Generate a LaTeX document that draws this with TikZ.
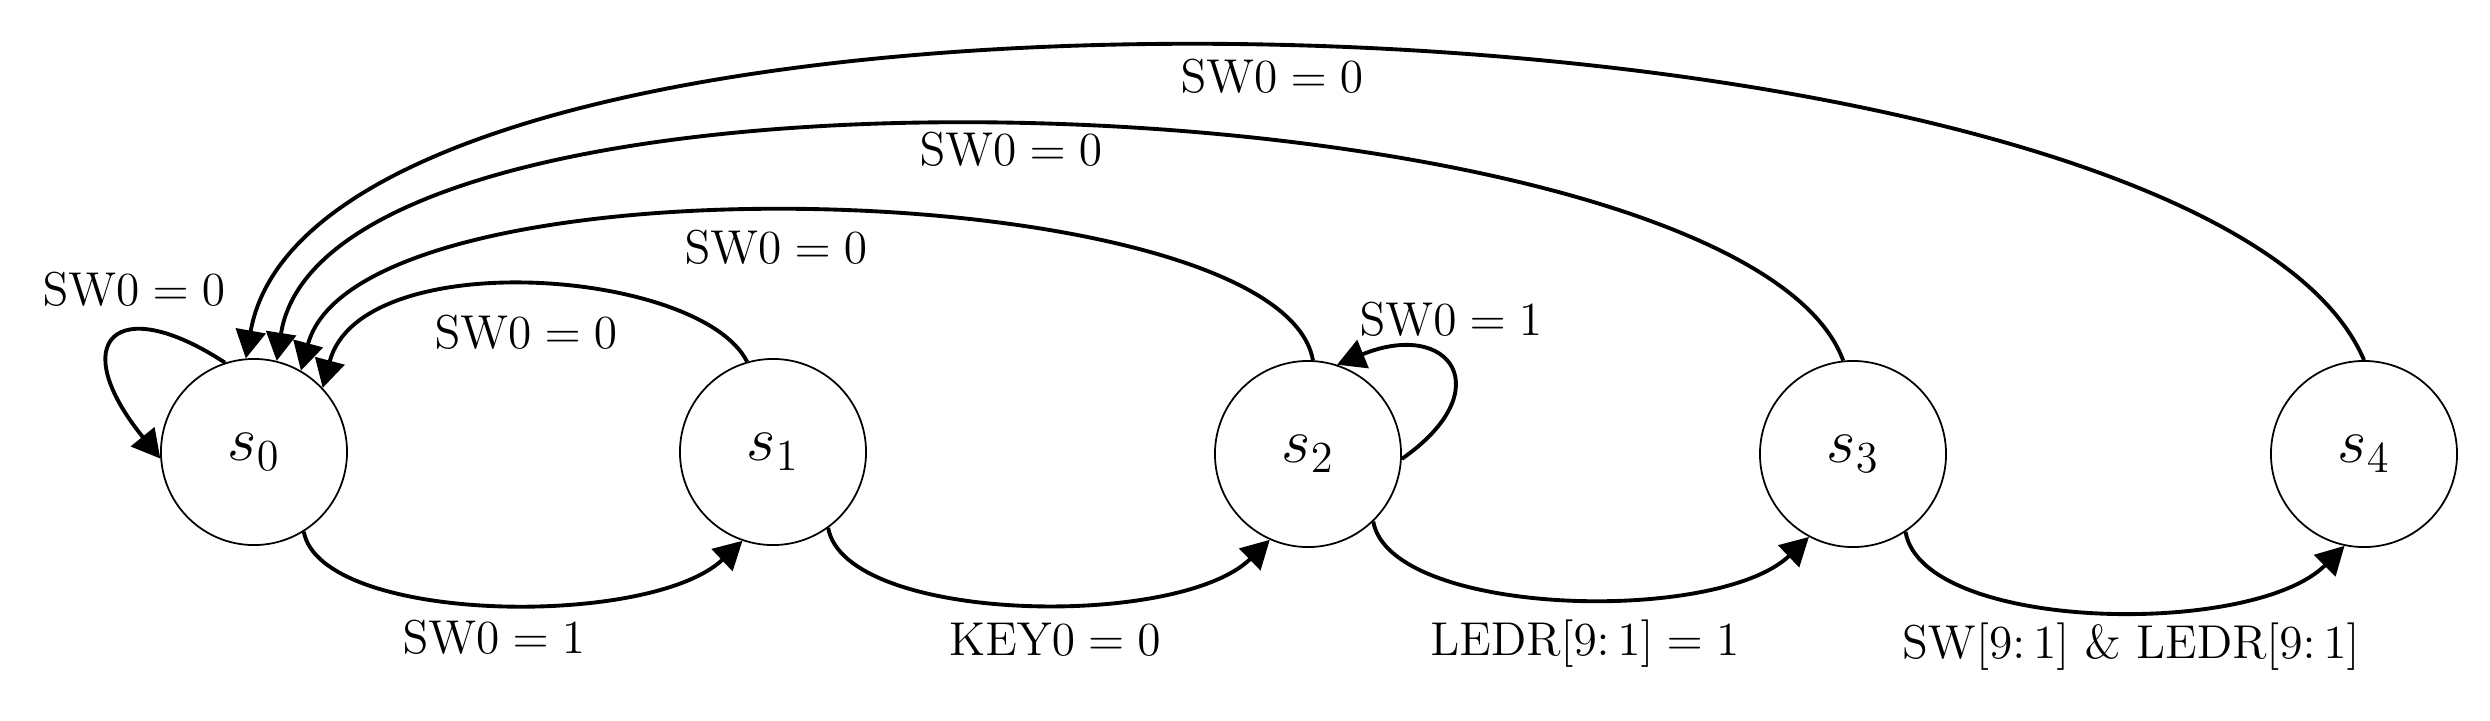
\RequirePackage{fix-cm}
\documentclass[tikz,border=0pt]{standalone}
\usetikzlibrary{arrows.meta}
\begin{document}
\begin{tikzpicture}[x=0.01cm,y=0.01cm,
  state/.style={circle,draw,line width=0.5pt,minimum size=1.86cm,inner sep=0pt,font=\fontsize{18}{20}\selectfont},
  lbl/.style={inner sep=0pt,anchor=base,font=\fontsize{13.5}{16}\selectfont},
  tr/.style={line width=1.1pt,-{Triangle[length=8pt,width=8.5pt]}}]
\useasboundingbox (0,0) rectangle (2490,720);
% states
\node[state] (s0) at (254,268) {$s_0$};
\node[state] (s1) at (773,268) {$s_1$};
\node[state] (s2) at (1308,266) {$s_2$};
\node[state] (s3) at (1853,266) {$s_3$};
\node[state] (s4) at (2364,266) {$s_4$};
% forward transitions (below)
\draw[tr] (s0.302) .. controls +(17,-92) and +(-93,-88) .. (s1.251);
\draw[tr] (s1.-54) .. controls +(17,-95) and +(-92,-90) .. (s2.246);
\draw[tr] (s2.-46) .. controls +(17,-95) and +(-92,-88) .. (s3.242);
\draw[tr] (s3.-56) .. controls +(17,-100) and +(-92,-92) .. (s4.258);
% self loops
\draw[tr] (s0.108) .. controls +(-110,72) and +(-95,117) .. (s0.184);
\draw[tr] (s2.-3) .. controls +(99,69) and +(113,46) .. (s2.72);
% return arcs to s0
\draw[tr] (s1.106) .. controls +(-47,93) and +(38,144) .. (s0.43);
\draw[tr] (s2.87) .. controls +(-33,186) and +(59,222) .. (s0.60);
\draw[tr] (s3.96) .. controls +(-103,282) and +(54,342) .. (s0.76);
\draw[tr] (s4.90) .. controls +(-164,386) and +(79,444) .. (s0.95);
% labels
\node[lbl] (l0) at (134,415) {$\mathrm{SW0}=0$};
\node[lbl] (l1) at (526,372) {$\mathrm{SW0}=0$};
\node[lbl] (l2) at (776,457) {$\mathrm{SW0}=0$};
\node[lbl] (l3) at (1011,555) {$\mathrm{SW0}=0$};
\node[lbl] (l4) at (1272,628) {$\mathrm{SW0}=0$};
\node[lbl] (l5) at (1451,385) {$\mathrm{SW0}=1$};
\node[lbl] (l6) at (494,67) {$\mathrm{SW0}=1$};
\node[lbl] (l7) at (1055,65) {$\mathrm{KEY0}=0$};
\node[lbl] (l8) at (1585,65) {$\mathrm{LEDR}[9\colon 1]=1$};
\node[lbl] (l9) at (2131,62) {$\mathrm{SW}[9\colon 1]\ \&\ \mathrm{LEDR}[9\colon 1]$};
\end{tikzpicture}
\end{document}
